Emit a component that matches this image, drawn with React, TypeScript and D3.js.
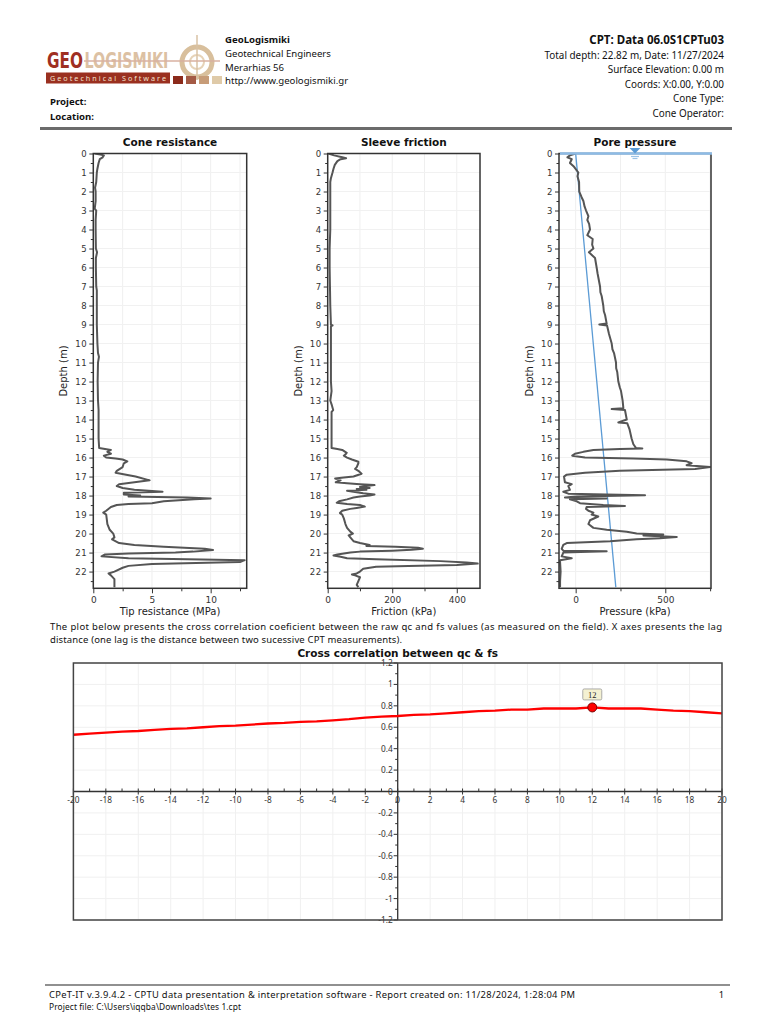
import React, { useRef, useEffect } from "react";
import * as d3 from "d3";

type Pt = [number, number]; // [depth (m), value]

// cone resistance qc (MPa) vs depth
const qcProfile: Pt[] = [
  [0, 0.1], [0.05, 0.6], [0.1, 0.9], [0.2, 0.8], [0.3, 0.55], [0.5, 0.45], [0.8, 0.35], [1.0, 0.3],
  [1.5, 0.25], [1.8, 0.15], [2.0, 0.2], [2.5, 0.2], [2.9, 0.12], [3.0, 0.25], [3.5, 0.2], [4, 0.2],
  [5, 0.22], [5.2, 0.32], [5.5, 0.22], [6, 0.22], [7, 0.25], [7.2, 0.3], [8, 0.3], [9, 0.3],
  [10, 0.35], [10.5, 0.4], [10.7, 0.48], [11, 0.4], [12, 0.37], [13, 0.4], [13.5, 0.45], [14, 0.45],
  [15, 0.45], [15.5, 0.5], [15.55, 1.0], [15.6, 1.5], [15.7, 1.2], [15.8, 1.5], [15.9, 0.9],
  [16.0, 1.1], [16.05, 1.9], [16.1, 2.5], [16.2, 2.9], [16.3, 2.6], [16.5, 2.5], [16.7, 2.0],
  [16.8, 1.9], [16.9, 2.8], [17.0, 3.6], [17.2, 4.8], [17.3, 3.5], [17.4, 2.2], [17.5, 2.0],
  [17.6, 2.5], [17.7, 3.5], [17.8, 5.9], [17.85, 2.6], [17.95, 2.6], [18.0, 4.0], [18.05, 3.0],
  [18.1, 8.0], [18.15, 10.0], [18.2, 8.6], [18.3, 6.0], [18.4, 5.0], [18.45, 3.0], [18.5, 2.0],
  [18.6, 1.5], [18.8, 1.1], [18.9, 0.85], [19.0, 1.1], [19.5, 1.2], [19.8, 1.4], [20.0, 1.7],
  [20.2, 1.8], [20.3, 1.6], [20.5, 2.2], [20.6, 3.5], [20.7, 6.0], [20.8, 9.5], [20.87, 10.2],
  [20.95, 8.5], [21.0, 7.0], [21.05, 3.0], [21.1, 1.0], [21.2, 0.7], [21.3, 3.0], [21.35, 8.0],
  [21.4, 12.9], [21.5, 12.5], [21.6, 5.0], [21.7, 3.0], [21.8, 2.5], [22.0, 1.8], [22.1, 1.3],
  [22.2, 1.5], [22.4, 1.8], [22.6, 1.8], [22.82, 1.8],
];

// sleeve friction fs (kPa) vs depth
const fsProfile: Pt[] = [
  [0, 2], [0.1, 20], [0.2, 45], [0.25, 57], [0.3, 40], [0.4, 30], [0.6, 22], [0.8, 18], [1.0, 15],
  [1.3, 10], [1.5, 8], [2, 8], [3, 8], [4, 8], [5, 6], [6, 6], [7, 7], [8, 8], [9, 10], [9.05, 15],
  [9.1, 10], [10, 10], [11, 10], [12, 10], [12.5, 12], [13, 8], [13.2, 12], [13.5, 17], [13.6, 12],
  [14, 12], [15, 12], [15.5, 12], [15.55, 30], [15.6, 45], [15.75, 59], [15.8, 57], [15.9, 50],
  [16.0, 60], [16.1, 75], [16.22, 95], [16.3, 95], [16.5, 90], [16.6, 85], [16.7, 95], [16.85, 105],
  [17.0, 80], [17.05, 50], [17.1, 23], [17.2, 40], [17.3, 25], [17.35, 60], [17.4, 100], [17.45, 145],
  [17.5, 120], [17.55, 100], [17.6, 130], [17.65, 90], [17.7, 120], [17.75, 60], [17.8, 80],
  [17.88, 110], [17.95, 145], [18.0, 130], [18.05, 100], [18.1, 80], [18.2, 60], [18.3, 35],
  [18.38, 28], [18.45, 60], [18.5, 100], [18.58, 115], [18.65, 90], [18.7, 70], [18.8, 45],
  [18.92, 38], [19.0, 45], [19.2, 50], [19.5, 55], [19.7, 60], [19.9, 70], [20.0, 78], [20.1, 65],
  [20.2, 70], [20.4, 80], [20.5, 100], [20.6, 130], [20.65, 120], [20.7, 210], [20.75, 280],
  [20.8, 295], [20.85, 260], [20.9, 200], [20.95, 100], [21.0, 70], [21.1, 30], [21.15, 18],
  [21.22, 40], [21.3, 60], [21.35, 150], [21.45, 350], [21.52, 430], [21.58, 465], [21.65, 400],
  [21.7, 250], [21.75, 150], [21.85, 110], [22.0, 100], [22.1, 90], [22.15, 75], [22.2, 85],
  [22.3, 100], [22.5, 95], [22.7, 90], [22.82, 95],
];

// pore pressure u2 (kPa) vs depth
const u2Profile: Pt[] = [
  [0, 0], [0.1, -32], [0.2, -46], [0.3, -22], [0.5, -32], [0.7, -9], [1.0, 15], [1.2, 10], [1.5, 19],
  [2.0, 20], [2.3, 33], [2.5, 43], [2.8, 50], [3.0, 58], [3.3, 71], [3.5, 65], [3.7, 75], [4.0, 80],
  [4.3, 65], [4.5, 95], [4.8, 92], [5.0, 99], [5.2, 74], [5.5, 108], [6.0, 117], [6.3, 122],
  [6.5, 126], [7.0, 136], [7.3, 138], [7.5, 145], [8.0, 154], [8.3, 157], [8.5, 164], [8.95, 173],
  [9.0, 132], [9.05, 175], [9.5, 186], [10, 201], [10.3, 205], [10.5, 214], [11, 225], [11.3, 226],
  [11.5, 232], [12, 238], [12.3, 246], [12.5, 253], [13, 262], [13.4, 266], [13.45, 201], [13.5, 275],
  [14, 285], [14.15, 238], [14.2, 288], [14.5, 300], [15, 312], [15.3, 322], [15.5, 337],
  [15.52, 372], [15.55, 247], [15.6, 99], [15.7, 43], [15.8, -4], [15.9, -19], [16.0, 52],
  [16.05, 322], [16.1, 508], [16.2, 619], [16.3, 647], [16.4, 619], [16.5, 750], [16.6, 666],
  [16.7, 247], [16.8, 52], [16.9, -50], [17.0, -65], [17.3, -60], [17.4, -22], [17.5, -41],
  [17.7, -32], [17.8, -69], [17.9, -41], [17.98, 387], [18.05, 6], [18.1, -60], [18.15, 173],
  [18.2, -32], [18.3, 6], [18.4, 24], [18.5, 154], [18.55, 275], [18.6, 61], [18.7, 58], [18.8, 71],
  [18.9, 99], [19.0, 89], [19.1, 126], [19.3, 80], [19.5, 71], [19.7, 99], [19.8, 173], [19.9, 285],
  [20.0, 340], [20.05, 489], [20.1, 378], [20.18, 564], [20.25, 470], [20.3, 340], [20.4, 192],
  [20.5, -50], [20.6, -69], [20.8, -78], [20.9, -69], [20.93, 173], [21.0, -69], [21.2, -78],
  [21.3, -22], [21.4, -87], [21.5, -87], [22, -84], [22.5, -87], [22.82, -87],
];

// hydrostatic pressure line
const hydroLine: Pt[] = [[0, 0], [22.82, 224]];

const depthMajor = d3.range(0, 23);
const depthMinor = d3.range(0.5, 23, 1);

// cross correlation qc vs fs
const lags = d3.range(-20, 21);
const corrValues = [
  0.53, 0.54, 0.55, 0.56, 0.565, 0.575, 0.585, 0.59, 0.6, 0.61, 0.615, 0.625, 0.635, 0.64, 0.65,
  0.655, 0.665, 0.675, 0.69, 0.7, 0.705, 0.715, 0.72, 0.73, 0.74, 0.75, 0.755, 0.765, 0.765, 0.775,
  0.775, 0.775, 0.785, 0.775, 0.775, 0.775, 0.765, 0.755, 0.75, 0.74, 0.73,
];
const peakLag = 12;
const lagTicks = d3.range(-20, 21, 2);
const corrTicks = [-1.2, -1, -0.8, -0.6, -0.4, -0.2, 0, 0.2, 0.4, 0.6, 0.8, 1, 1.2];

const headerLeft = ["GeoLogismiki", "Geotechnical Engineers", "Merarhias 56", "http://www.geologismiki.gr"];
const headerRight = [
  "Total depth: 22.82 m, Date: 11/27/2024",
  "Surface Elevation: 0.00 m",
  "Coords: X:0.00, Y:0.00",
  "Cone Type:",
  "Cone Operator:",
];

const SANS = "'DejaVu Sans', Verdana, sans-serif";
const TXT = "'Noto Sans', 'Open Sans', sans-serif";
const TOP = 153.5;
const BOT = 588.3;

interface PanelOpts {
  id: string;
  left: number;
  right: number;
  domain: [number, number];
  majors: number[];
  minors: number[];
  title: string;
  xLabel: string;
  data: Pt[];
}

const App = () => {
  const ref = useRef<SVGSVGElement>(null);

  useEffect(() => {
    const svg = d3.select(ref.current);
    svg.selectAll("*").remove();
    const yDepth = d3.scaleLinear().domain([0, 22.88]).range([TOP, BOT]);

    // ---------- header ----------
    const hd = svg.append("g");
    // logo
    hd.append("circle").attr("cx", 197).attr("cy", 62).attr("r", 15)
      .attr("fill", "none").attr("stroke", "#d8bf9c").attr("stroke-width", 5);
    hd.append("circle").attr("cx", 197).attr("cy", 62).attr("r", 7)
      .attr("fill", "none").attr("stroke", "#e6d3b8").attr("stroke-width", 2);
    hd.append("line").attr("x1", 197).attr("x2", 197).attr("y1", 35).attr("y2", 80)
      .attr("stroke", "#d9c2a4").attr("stroke-width", 1.5);
    // squeezed logo words: measure then scale horizontally to the target width
    const logoWord = (t: string, x: number, w: number, fill: string) => {
      const el = hd.append("text").text(t).attr("font-family", SANS).attr("font-weight", "bold")
        .attr("font-size", 22).attr("fill", fill);
      const len = (el.node() as SVGTextElement).getComputedTextLength() || w;
      el.attr("transform", `translate(${x},68) scale(${w / len},1)`);
    };
    logoWord("GEO", 47, 36, "#9f2f22");
    logoWord("LOGISMIKI", 84.5, 84, "#dcc1a3");
    hd.append("line").attr("x1", 84).attr("x2", 220).attr("y1", 61).attr("y2", 61)
      .attr("stroke", "#d9b0a0").attr("stroke-width", 1.5);
    hd.append("rect").attr("x", 46).attr("y", 72.5).attr("width", 124).attr("height", 11).attr("fill", "#9a3020");
    hd.append("text").attr("x", 50).attr("y", 81.3).text("Geotechnical Software")
      .attr("font-family", TXT).attr("font-size", 7.2).attr("fill", "#f3e2cf")
      .attr("textLength", 116).attr("lengthAdjust", "spacing");
    const sq = ["#8c2a1b", "#a45a45", "#c79c78", "#dfcaa8"];
    sq.forEach((c, i) => {
      hd.append("rect").attr("x", 173 + i * 13).attr("y", 76).attr("width", 10).attr("height", 8).attr("fill", c);
    });

    headerLeft.forEach((t, i) => {
      hd.append("text").attr("x", 225).attr("y", 43 + i * 13.8).text(t)
        .attr("font-family", TXT).attr("font-size", 9.6).attr("fill", "#111")
        .attr("font-weight", i === 0 ? "bold" : "normal");
    });
    ["Project:", "Location:"].forEach((t, i) => {
      hd.append("text").attr("x", 50).attr("y", 105 + i * 14.5).text(t)
        .attr("font-family", TXT).attr("font-size", 9.6).attr("font-weight", "bold").attr("fill", "#111");
    });
    hd.append("text").attr("x", 724).attr("y", 44).text("CPT: Data 06.0S1CPTu03")
      .attr("text-anchor", "end").attr("font-family", TXT).attr("font-size", 11.5)
      .attr("font-weight", "bold").attr("fill", "#111");
    headerRight.forEach((t, i) => {
      hd.append("text").attr("x", 724).attr("y", 58.5 + i * 14.6).text(t)
        .attr("text-anchor", "end").attr("font-family", TXT).attr("font-size", 9.9).attr("fill", "#111");
    });
    hd.append("line").attr("x1", 40).attr("x2", 732).attr("y1", 128.5).attr("y2", 128.5)
      .attr("stroke", "#6b6b6b").attr("stroke-width", 3);

    // ---------- depth panels ----------
    const panel = (o: PanelOpts) => {
      const g = svg.append("g");
      const x = d3.scaleLinear().domain(o.domain).range([o.left, o.right]);
      g.append("clipPath").attr("id", o.id).append("rect")
        .attr("x", o.left).attr("y", TOP).attr("width", o.right - o.left).attr("height", BOT - TOP);
      // grid
      g.selectAll(".vg").data(o.majors.concat(o.minors)).join("line")
        .attr("x1", d => x(d)).attr("x2", d => x(d)).attr("y1", TOP).attr("y2", BOT)
        .attr("stroke", "#efefef").attr("stroke-width", 1);
      g.selectAll(".hg").data(depthMajor).join("line")
        .attr("x1", o.left).attr("x2", o.right).attr("y1", d => yDepth(d)).attr("y2", d => yDepth(d))
        .attr("stroke", "#f1f1f1").attr("stroke-width", 1);

      const clip = g.append("g").attr("clip-path", `url(#${o.id})`);
      const line = d3.line<Pt>().x(d => x(d[1])).y(d => yDepth(d[0]));
      if (o.id === "pore") {
        clip.append("path").datum(hydroLine).attr("d", line)
          .attr("fill", "none").attr("stroke", "#5b9bd5").attr("stroke-width", 1.3);
      }
      clip.append("path").datum(o.data).attr("d", line)
        .attr("fill", "none").attr("stroke", "#555").attr("stroke-width", 2).attr("stroke-linejoin", "round");

      g.append("rect").attr("x", o.left).attr("y", TOP).attr("width", o.right - o.left).attr("height", BOT - TOP)
        .attr("fill", "none").attr("stroke", "#333").attr("stroke-width", 1.5);

      if (o.id === "pore") {
        // water table at surface
        g.append("line").attr("x1", o.left + 1).attr("x2", o.right + 1).attr("y1", yDepth(0)).attr("y2", yDepth(0))
          .attr("stroke", "#8dbbe6").attr("stroke-width", 2.5);
        const cx = (o.left + o.right) / 2;
        g.append("path").attr("d", `M${cx - 5.5},148 L${cx + 5.5},148 L${cx},153.5 Z`).attr("fill", "#5b9bd5");
        g.append("line").attr("x1", cx - 4).attr("x2", cx + 4).attr("y1", 156.5).attr("y2", 156.5)
          .attr("stroke", "#9cc3e6").attr("stroke-width", 1.2);
        g.append("line").attr("x1", cx - 2.5).attr("x2", cx + 2.5).attr("y1", 158.5).attr("y2", 158.5)
          .attr("stroke", "#9cc3e6").attr("stroke-width", 1.2);
      }

      // depth axis
      const ya = g.append("g").attr("transform", `translate(${o.left},0)`)
        .call(d3.axisLeft(yDepth).tickValues(depthMajor).tickSize(4).tickPadding(2).tickFormat(d3.format("d")));
      const ym = g.append("g").attr("transform", `translate(${o.left},0)`)
        .call(d3.axisLeft(yDepth).tickValues(depthMinor).tickSize(2.5).tickFormat(() => ""));
      [ya, ym].forEach(a => {
        a.select(".domain").remove();
        a.selectAll("line").attr("stroke", "#333");
      });
      ya.selectAll("text").attr("font-family", SANS).attr("font-size", 8.5).attr("fill", "#333")
        .attr("letter-spacing", 0.6);

      // value axis
      const xa = g.append("g").attr("transform", `translate(0,${BOT})`)
        .call(d3.axisBottom(x).tickValues(o.majors).tickSize(5).tickPadding(3).tickFormat(d3.format("d")));
      const xm = g.append("g").attr("transform", `translate(0,${BOT})`)
        .call(d3.axisBottom(x).tickValues(o.minors).tickSize(3).tickFormat(() => ""));
      [xa, xm].forEach(a => {
        a.select(".domain").remove();
        a.selectAll("line").attr("stroke", "#333");
      });
      xa.selectAll("text").attr("font-family", SANS).attr("font-size", 9).attr("fill", "#333");

      const cx = (o.left + o.right) / 2;
      g.append("text").attr("x", cx).attr("y", 146).attr("text-anchor", "middle").text(o.title)
        .attr("font-family", SANS).attr("font-size", 10.5).attr("font-weight", "bold").attr("fill", "#111");
      g.append("text").attr("x", cx).attr("y", 615).attr("text-anchor", "middle").text(o.xLabel)
        .attr("font-family", SANS).attr("font-size", 10).attr("fill", "#222");
      g.append("text").attr("transform", `translate(${o.left - 26},371) rotate(-90)`)
        .attr("text-anchor", "middle").text("Depth (m)")
        .attr("font-family", SANS).attr("font-size", 10).attr("fill", "#222");
    };

    panel({
      id: "cone", left: 93.3, right: 246.7, domain: [0, 13.07], majors: [0, 5, 10], minors: [2.5, 7.5, 12.5],
      title: "Cone resistance", xLabel: "Tip resistance (MPa)", data: qcProfile,
    });
    panel({
      id: "sleeve", left: 327.7, right: 480, domain: [0, 472], majors: [0, 200, 400], minors: [100, 300],
      title: "Sleeve friction", xLabel: "Friction (kPa)", data: fsProfile,
    });
    panel({
      id: "pore", left: 559, right: 711, domain: [-93, 755], majors: [0, 500], minors: [250, 750],
      title: "Pore pressure", xLabel: "Pressure (kPa)", data: u2Profile,
    });

    // ---------- description ----------
    svg.append("text").attr("x", 50).attr("y", 630)
      .text("The plot below presents the cross correlation coeficient between the raw qc and fs values (as measured on the field). X axes presents the lag")
      .attr("font-family", TXT).attr("font-size", 9.5).attr("fill", "#111")
      .attr("textLength", 672).attr("lengthAdjust", "spacing");
    svg.append("text").attr("x", 50).attr("y", 642.5)
      .text("distance (one lag is the distance between two sucessive CPT measurements).")
      .attr("font-family", TXT).attr("font-size", 9.5).attr("fill", "#111")
      .attr("textLength", 352).attr("lengthAdjust", "spacing");

    // ---------- cross correlation ----------
    const cl = 73.4, cr = 722, ct = 663, cb = 920;
    const xc = d3.scaleLinear().domain([-20, 20]).range([cl, cr]);
    const yc = d3.scaleLinear().domain([-1.2, 1.2]).range([cb, ct]);
    const cg = svg.append("g");
    cg.append("text").attr("x", (cl + cr) / 2).attr("y", 657).attr("text-anchor", "middle")
      .text("Cross correlation between qc & fs")
      .attr("font-family", SANS).attr("font-size", 10.5).attr("font-weight", "bold").attr("fill", "#111");
    cg.selectAll(".gx").data(lagTicks).join("line")
      .attr("x1", d => xc(d)).attr("x2", d => xc(d)).attr("y1", ct).attr("y2", cb)
      .attr("stroke", "#f0f0f0");
    cg.selectAll(".gy").data(corrTicks).join("line")
      .attr("x1", cl).attr("x2", cr).attr("y1", d => yc(d)).attr("y2", d => yc(d))
      .attr("stroke", "#f0f0f0");

    const x0 = xc(0), y0 = yc(0);
    // x axis through zero
    cg.append("line").attr("x1", cl).attr("x2", cr).attr("y1", y0).attr("y2", y0).attr("stroke", "#333").attr("stroke-width", 1.3);
    cg.selectAll(".xt").data(lagTicks).join("line")
      .attr("x1", d => xc(d)).attr("x2", d => xc(d)).attr("y1", y0 - 3).attr("y2", y0 + 3).attr("stroke", "#333");
    cg.selectAll(".xm").data(d3.range(-19, 20, 2)).join("line")
      .attr("x1", d => xc(d)).attr("x2", d => xc(d)).attr("y1", y0 - 3).attr("y2", y0).attr("stroke", "#333");
    cg.selectAll(".xl").data(lagTicks).join("text")
      .attr("x", d => xc(d)).attr("y", y0 + 11).attr("text-anchor", "middle").text(d => String(d))
      .attr("font-family", TXT).attr("font-size", 8.3).attr("fill", "#333");
    // y axis through zero
    cg.append("line").attr("x1", x0).attr("x2", x0).attr("y1", ct).attr("y2", cb).attr("stroke", "#333").attr("stroke-width", 1.3);
    cg.selectAll(".yt").data(corrTicks).join("line")
      .attr("x1", x0 - 4).attr("x2", x0).attr("y1", d => yc(d)).attr("y2", d => yc(d)).attr("stroke", "#333");
    cg.selectAll(".ym").data(d3.range(-1.1, 1.2, 0.2)).join("line")
      .attr("x1", x0 - 2.5).attr("x2", x0).attr("y1", d => yc(d)).attr("y2", d => yc(d)).attr("stroke", "#333");
    cg.selectAll(".yl").data(corrTicks).join("text")
      .attr("x", x0 - 5).attr("y", d => yc(d) + 3).attr("text-anchor", "end").text(d => String(d))
      .attr("font-family", TXT).attr("font-size", 8.3).attr("fill", "#333");

    const corrLine = d3.line<number>().x((_, i) => xc(lags[i])).y(d => yc(d));
    cg.append("path").datum(corrValues).attr("d", corrLine)
      .attr("fill", "none").attr("stroke", "#f00").attr("stroke-width", 2.3);
    const pv = corrValues[lags.indexOf(peakLag)];
    cg.append("circle").attr("cx", xc(peakLag)).attr("cy", yc(pv)).attr("r", 4.5)
      .attr("fill", "#f00").attr("stroke", "#7a0000").attr("stroke-width", 1);
    cg.append("rect").attr("x", xc(peakLag) - 9.5).attr("y", yc(pv) - 18.5).attr("width", 19).attr("height", 11)
      .attr("rx", 1.5).attr("fill", "#f4f1d2").attr("stroke", "#999").attr("stroke-width", 0.8);
    cg.append("text").attr("x", xc(peakLag)).attr("y", yc(pv) - 9.8).attr("text-anchor", "middle").text(String(peakLag))
      .attr("font-family", "'Liberation Serif', serif").attr("font-size", 8.5).attr("fill", "#222");

    cg.append("rect").attr("x", cl).attr("y", ct).attr("width", cr - cl).attr("height", cb - ct)
      .attr("fill", "none").attr("stroke", "#444").attr("stroke-width", 1.5);

    // ---------- footer ----------
    svg.append("line").attr("x1", 45).attr("x2", 730).attr("y1", 985).attr("y2", 985)
      .attr("stroke", "#222").attr("stroke-width", 1.2);
    svg.append("text").attr("x", 49).attr("y", 998)
      .text("CPeT-IT v.3.9.4.2 - CPTU data presentation & interpretation software - Report created on: 11/28/2024, 1:28:04 PM")
      .attr("font-family", TXT).attr("font-size", 9.4).attr("fill", "#111")
      .attr("textLength", 526).attr("lengthAdjust", "spacing");
    svg.append("text").attr("x", 724).attr("y", 998).attr("text-anchor", "end").text("1")
      .attr("font-family", TXT).attr("font-size", 9.4).attr("fill", "#111");
    svg.append("text").attr("x", 49).attr("y", 1009.5)
      .text("Project file: C:\\Users\\iqqba\\Downloads\\tes 1.cpt")
      .attr("font-family", TXT).attr("font-size", 8.4).attr("fill", "#111")
      .attr("textLength", 192).attr("lengthAdjust", "spacing");
  }, []);

  return (
    <svg ref={ref} width={768} height={1024}
      style={{ position: "absolute", left: 0, top: 0, background: "#fff" }} />
  );
};

export default App;
